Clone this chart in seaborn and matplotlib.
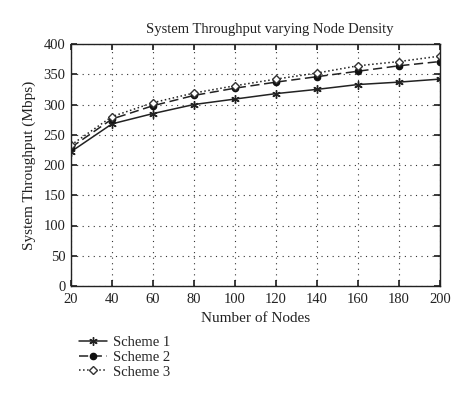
import matplotlib
matplotlib.use('Agg')
import matplotlib.pyplot as plt
import seaborn as sns
import pandas as pd

# Data
nodes = [20, 40, 60, 80, 100, 120, 140, 160, 180, 200]
scheme1 = [222, 268, 285, 300, 309, 318, 325, 333, 337, 342]
scheme2 = [229, 276, 298, 315, 327, 337, 346, 355, 364, 371]
scheme3 = [233, 280, 303, 319, 331, 342, 352, 364, 371, 380]
series_names = ['Scheme 1', 'Scheme 2', 'Scheme 3']

df = pd.DataFrame({'Nodes': nodes * 3,
                   'Throughput': scheme1 + scheme2 + scheme3,
                   'Scheme': [s for s in series_names for _ in nodes]})

sns.set_theme(style='ticks')
plt.rcParams['font.family'] = ['Liberation Serif', 'DejaVu Serif']

fig = plt.figure(figsize=(4.74, 3.97), dpi=100)
ax = fig.add_axes([71 / 474, 1 - 286 / 397, 369 / 474, 242 / 397])

styles = {'Scheme 1': dict(ls='-', marker=(6, 2, 0), ms=6, mfc='#222222', mec='#222222'),
          'Scheme 2': dict(ls=(0, (6, 3)), marker='o', ms=4.5, mfc='#111111', mec='#111111'),
          'Scheme 3': dict(ls=':', marker='D', ms=4, mfc='white', mec='#333333')}

for name in series_names:
    sub = df[df['Scheme'] == name]
    st = styles[name]
    sns.lineplot(data=sub, x='Nodes', y='Throughput', ax=ax, color='#222222',
                 linestyle=st['ls'], marker=st['marker'], markersize=st['ms'],
                 markerfacecolor=st['mfc'], markeredgecolor=st['mec'],
                 markeredgewidth=1.0, linewidth=1.1, label=name)

ax.set_xlim(20, 200)
ax.set_ylim(0, 400)
ax.set_xticks(nodes)
ax.set_yticks(range(0, 401, 50))
ax.grid(True, color='#333333', linestyle=(0, (1, 4)), linewidth=0.8)
ax.tick_params(direction='in', length=4, labelsize=10.5, colors='#222222', top=True, right=True)
ax.tick_params(axis='x', pad=5)
ax.tick_params(axis='y', pad=4)
for sp in ax.spines.values():
    sp.set_color('#222222')
    sp.set_linewidth(1.0)

fig.text(270 / 474, 1 - 30 / 397, 'System Throughput varying Node Density',
         fontsize=10.5, color='#222222', ha='center', va='center')
ax.set_xlabel('Number of Nodes', fontsize=11, color='#222222', labelpad=4)
ax.set_ylabel('System Throughput (Mbps)', fontsize=11, color='#222222', labelpad=5)

ax.legend(loc='upper left', bbox_to_anchor=(79 / 474, 1 - 336 / 397),
          bbox_transform=fig.transFigure, frameon=False, fontsize=10.5,
          handlelength=1.9, handletextpad=0.4, labelspacing=0.1, borderpad=0,
          borderaxespad=0)

fig.savefig('out.png', dpi=100)
